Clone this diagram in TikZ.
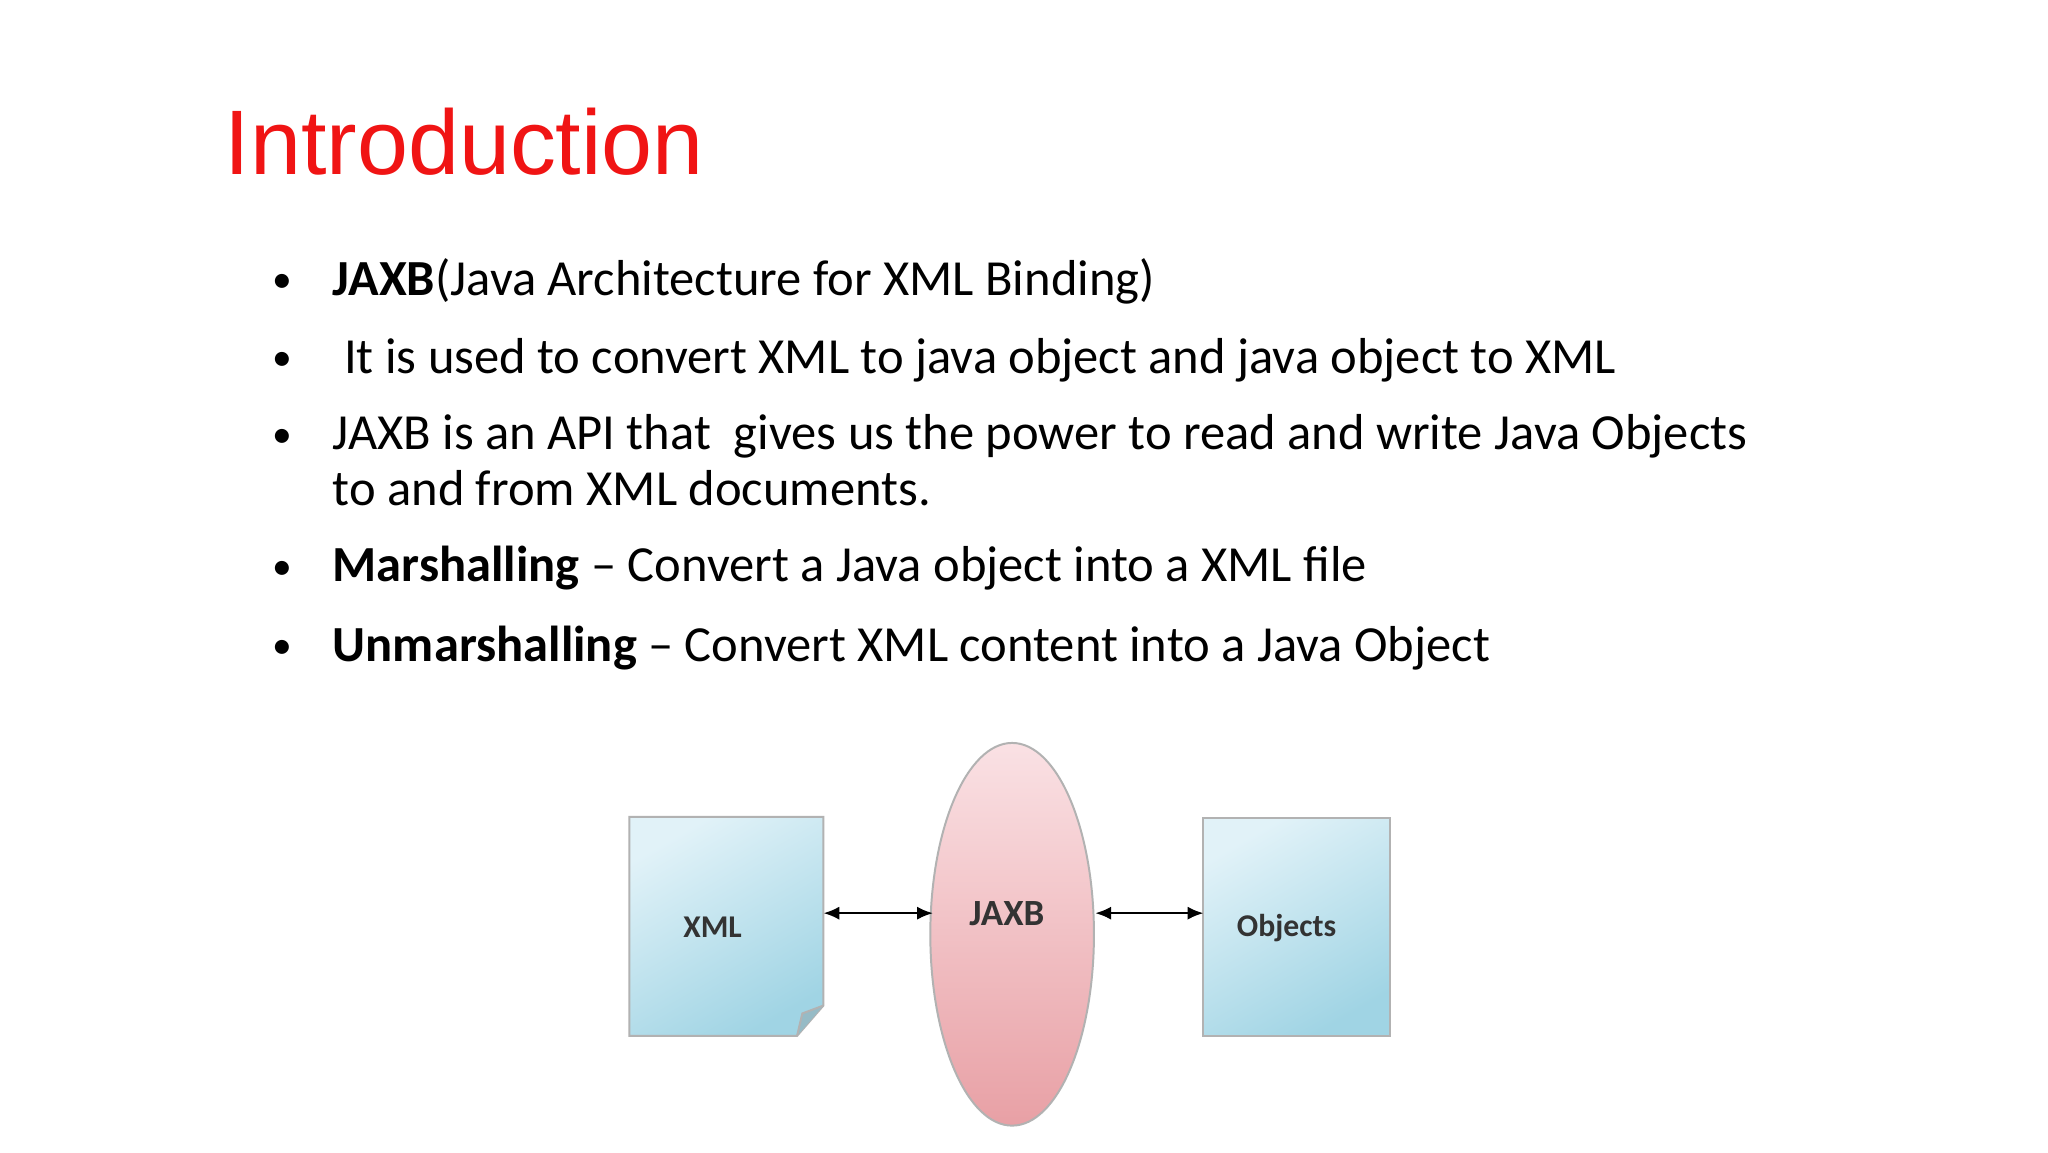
\documentclass[tikz,border=0pt]{standalone}
\usepackage{fontspec}
\setmainfont{Carlito}
\newfontfamily\titlefont{Liberation Sans}
\usetikzlibrary{arrows.meta,shapes.geometric}
\definecolor{titlered}{RGB}{240,20,20}
\definecolor{boxblue}{RGB}{160,212,228}
\definecolor{boxlight}{RGB}{225,242,248}
\definecolor{pinkd}{RGB}{232,160,165}
\definecolor{pinkl}{RGB}{250,225,228}
\tikzset{
  bul/.style={anchor=base west,inner sep=0pt,font=\fontsize{38.3}{44}\selectfont},
  dot/.style={anchor=base,inner sep=0pt,font=\fontsize{30}{36}\selectfont},
  doc/.style={draw=gray!60,line width=1.5pt,top color=boxlight,bottom color=boxblue,shading angle=30},
  lab/.style={font=\fontsize{24}{28}\selectfont\bfseries,text=black!80},
  arr/.style={{Latex[length=12pt,width=10pt]}-{Latex[length=12pt,width=10pt]},line width=1.8pt}
}
\begin{document}
\begin{tikzpicture}[x=1pt,y=-1pt]
\useasboundingbox (0,0) rectangle (1552,873);
\fill[white] (0,0) rectangle (1552,873);
\node[anchor=base west,inner sep=0pt,text=titlered,font=\titlefont\fontsize{69.5}{80}\selectfont] (title) at (170,132) {Introduction};
\foreach \y/\n in {222/1,281/2,339/3,439/4,499/5}{\node[dot] (d\n) at (214,\y) {•};}
\node[bul] (b1) at (252,224) {\textbf{JAXB}(Java Architecture for XML Binding)};
\node[bul] (b2) at (252,283) {\ It is used to convert XML to java object and java object to XML};
\node[bul] (b3) at (252,341) {JAXB is an API that \ gives us the power to read and write Java Objects};
\node[bul] (b3b) at (252,383) {to and from XML documents.};
\node[bul] (b4) at (252,441) {\textbf{Marshalling} – Convert a Java object into a XML file};
\node[bul] (b5) at (252,501) {\textbf{Unmarshalling} – Convert XML content into a Java Object};
% XML doc
\path[doc] (477,619) -- (624,619) -- (624,762) -- (604,785) -- (477,785) -- cycle;
\draw[draw=gray!60,line width=1.5pt,fill=boxblue!70!gray] (624,762) -- (608,768) -- (604,785);
\node[lab] (xml) at (540,703) {XML};
% Objects
\path[doc] (912,620) rectangle (1053,785);
\node[lab] (obj) at (975,703) {Objects};
% JAXB ellipse
\node[ellipse,draw=gray!60,line width=1.5pt,top color=pinkl,bottom color=pinkd,minimum width=124pt,minimum height=290pt,inner sep=0pt] (jaxb) at (767,708) {};
\node[lab,font=\fontsize{28}{32}\selectfont\bfseries] (jl) at (763,692) {JAXB};
\coordinate (x1) at (624,692); \coordinate (j1) at (707,692);
\coordinate (j2) at (830,692); \coordinate (o1) at (912,692);
\draw[arr] (x1) -- (j1);
\draw[arr] (j2) -- (o1);
\end{tikzpicture}
\end{document}
